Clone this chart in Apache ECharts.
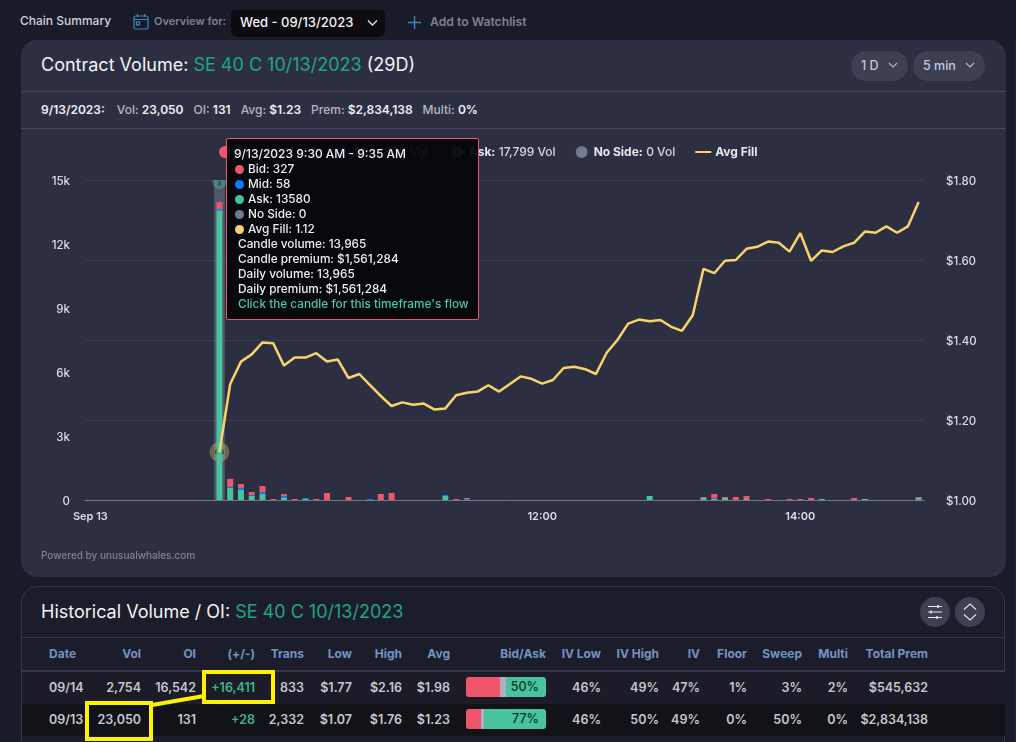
<!DOCTYPE html>
<html lang="en">
<head>
<meta charset="UTF-8">
<title>Contract Volume</title>
<script src="https://cdn.jsdelivr.net/npm/echarts@6/dist/echarts.min.js"></script>
<style>
  html, body { margin: 0; width: 1016px; height: 742px; overflow: hidden; background: #1a1b28; font-family: Inter, "Noto Sans", sans-serif; color: #e8e9ee; }
  .abs { position: absolute; white-space: nowrap; }
  .panel { position: absolute; left: 21px; top: 40px; width: 985px; height: 537px; background: #2c2f42; border-radius: 16px; }
  .panel2 { position: absolute; left: 21px; top: 586px; width: 984px; height: 170px; background: #1c1d2a; border: 1px solid #34364a; border-radius: 16px 16px 0 0; box-sizing: border-box; }
  .hline { position: absolute; height: 1px; background: #454859; }
  .green { color: #1fa680; }
  .title { font-size: 18px; font-weight: 400; line-height: 24px; color: #f2f3f6; }
  .pill { position: absolute; top: 51px; height: 30px; line-height: 30px; background: #3e4052; border-radius: 15px; font-size: 12.5px; font-weight: 500; color: #b9cbe6; box-sizing: border-box; padding-left: 10px; }
  .stats { font-size: 12px; line-height: 16px; color: #b5b7c0; font-weight: 500; }
  .stats b { color: #eceef2; font-weight: 600; }
  .stats span { margin-right: 10px; }
  #line { position: absolute; left: 21px; top: 129px; width: 985px; height: 448px; }
  table { position: absolute; left: 21px; top: 637px; border-collapse: collapse; table-layout: fixed; width: 907px; }
  th, td { padding: 0; text-align: right; font-size: 12px; white-space: nowrap; }
  th { height: 32px; padding-bottom: 2px; color: #7393c5; font-weight: 700; }
  td { height: 32px; color: #c6c8ce; font-weight: 600; font-size: 12.5px; }
  .band { position: absolute; left: 22px; width: 983px; height: 32px; }
  .ba { position: relative; display: flex; height: 20px; margin-left: 16px; border-radius: 3px; overflow: hidden; }
  .ba i { display: block; height: 100%; }
  .ba em { position: absolute; right: 7px; top: 0; line-height: 20px; font-style: normal; font-weight: 500; font-size: 12.5px; color: #15332c; }
  .round { position: absolute; top: 597px; width: 30px; height: 30px; border-radius: 15px; background: #3e4052; }
</style>
</head>
<body>
  <div class="abs" style="left:20px;top:13px;font-size:12px;line-height:16px;font-weight:500;color:#cfd2d8">Chain Summary</div>
  <svg class="abs" style="left:133px;top:13px" width="16" height="18" viewBox="0 0 16 18" fill="none" stroke="#3f86b8" stroke-width="1.2">
    <rect x="1" y="3" width="14" height="13" rx="2"/><path d="M1 6.5H15M4.5 1V4M11.5 1V4"/><rect x="3.5" y="9" width="3" height="3"/>
  </svg>
  <div class="abs" style="left:154px;top:13px;font-size:11px;line-height:16px;font-weight:600;color:#7f828e">Overview for:</div>
  <div class="abs" style="left:231px;top:10px;width:154px;height:27px;background:#0c0c10;border-radius:5px"></div>
  <div class="abs" style="left:240px;top:13px;font-size:13px;line-height:18px;font-weight:500;color:#f0f1f4">Wed - 09/13/2023</div>
  <svg class="abs" style="left:367px;top:19px" width="11" height="8" fill="none" stroke="#e8e9ee" stroke-width="1.3"><path d="M1 1.5L5.5 6L10 1.5"/></svg>
  <svg class="abs" style="left:408px;top:16px" width="13" height="13" stroke="#3f86b8" stroke-width="1.4"><path d="M6.5 0V13M0 6.5H13"/></svg>
  <div class="abs" style="left:430px;top:14px;font-size:12.2px;line-height:16px;font-weight:600;color:#7f828e">Add to Watchlist</div>
  <div class="abs" style="left:1015px;top:40px;width:1px;height:702px;background:#25263a"></div>

  <div class="panel"></div>
  <div class="abs title" style="left:41px;top:53px">Contract Volume: <span class="green">SE 40 C 10/13/2023</span> (29D)</div>
  <div class="pill" style="left:851px;width:57px">1 D</div>
  <div class="pill" style="left:913px;width:72px">5 min</div>
  <svg class="abs" style="left:888px;top:62px" width="10" height="7" fill="none" stroke="#b9bcc8" stroke-width="1.1"><path d="M1 1L5 5L9 1"/></svg>
  <svg class="abs" style="left:965px;top:62px" width="10" height="7" fill="none" stroke="#b9bcc8" stroke-width="1.1"><path d="M1 1L5 5L9 1"/></svg>
  <div class="hline" style="left:21px;top:91px;width:985px"></div>
  <div class="hline" style="left:21px;top:128px;width:985px"></div>
  <div class="abs stats" style="left:41px;top:102px"><span style="margin-right:12px"><b>9/13/2023:</b></span><span>Vol: <b>23,050</b></span><span>OI: <b>131</b></span><span>Avg: <b>$1.23</b></span><span>Prem: <b>$2,834,138</b></span><span>Multi: <b>0%</b></span></div>
  <div id="line"></div>
  <div class="abs" style="left:41px;top:548px;font-size:10px;line-height:14px;font-weight:500;color:#7e818f">Powered by unusualwhales.com</div>

  <div class="panel2"></div>
  <div class="abs title" style="left:41px;top:600px">Historical Volume / OI: <span class="green">SE 40 C 10/13/2023</span></div>
  <div class="round" style="left:920px">
    <svg width="30" height="30" fill="none" stroke="#e4e5ea" stroke-width="1.1"><path d="M8 9.5H22M8 15H22M8 20.5H22"/><path d="M18 8V11M11 13.5V16.5M17 19V22" stroke-width="1.6"/></svg>
  </div>
  <div class="round" style="left:955px">
    <svg width="30" height="30" fill="none" stroke="#e4e5ea" stroke-width="1.1"><path d="M9 12.5L15 7L21 12.5M9 17.5L15 23L21 17.5"/></svg>
  </div>
  <div class="hline" style="left:22px;top:637px;width:983px;background:#34364a"></div>
  <div class="band" style="top:672px;background:#1b1c27"></div>
  <div class="band" style="top:704px;background:#121318"></div>
  <div class="hline" style="left:22px;top:670px;width:983px;height:2px;background:#34364a"></div>
  <table id="hist"></table>
  <svg class="abs" style="left:0;top:0;pointer-events:none" width="1016" height="742" fill="none" stroke="#fff200" stroke-width="4">
    <rect x="204" y="672" width="69" height="30"/>
    <rect x="87" y="703" width="64" height="36"/>
    <path d="M152 705L204 696"/>
  </svg>

<script>
  // 5 minute slots, the axis starts one hour before the open
  var categories = [
    '08:30','08:35','08:40','08:45','08:50','08:55','09:00','09:05','09:10','09:15','09:20','09:25',
    '09:30','09:35','09:40','09:45','09:50','09:55','10:00','10:05','10:10','10:15','10:20','10:25',
    '10:30','10:35','10:40','10:45','10:50','10:55','11:00','11:05','11:10','11:15','11:20','11:25',
    '11:30','11:35','11:40','11:45','11:50','11:55','12:00','12:05','12:10','12:15','12:20','12:25',
    '12:30','12:35','12:40','12:45','12:50','12:55','13:00','13:05','13:10','13:15','13:20','13:25',
    '13:30','13:35','13:40','13:45','13:50','13:55','14:00','14:05','14:10','14:15','14:20','14:25',
    '14:30','14:35','14:40','14:45','14:50','14:55'
  ];
  var preOpen = [null,null,null,null,null,null,null,null,null,null,null,null];
  var bidVol = preOpen.concat([
    327,375,188,141,281,47,94,47,0,47,
    328,0,141,0,0,281,328,0,0,0,
    0,0,47,47,0,0,0,0,0,0,
    0,0,0,0,0,0,0,0,0,0,
    0,0,0,0,0,47,203,47,141,141,
    0,47,0,47,47,94,0,0,0,94,
    0,0,0,0,0,47
  ]);
  var midVol = preOpen.concat([
    58,40,94,30,94,0,60,0,47,0,
    0,0,0,0,47,0,0,0,0,0,
    0,47,0,47,0,0,0,0,0,0,
    0,0,0,0,0,0,0,0,0,0,
    0,0,0,0,0,0,30,0,0,0,
    0,0,0,0,0,0,0,0,0,0,
    0,0,0,0,0,0
  ]);
  var askVol = preOpen.concat([
    13580,578,469,203,281,0,125,0,47,0,
    0,0,0,0,0,0,0,0,0,0,
    0,188,0,0,0,0,0,0,0,0,
    0,0,0,0,0,0,0,0,0,0,
    188,0,0,0,0,94,47,94,0,47,
    0,0,0,0,0,0,47,0,0,0,
    47,0,0,0,0,94
  ]);
  var noSideVol = preOpen.concat([
    0,0,0,0,0,0,0,0,0,0,
    0,0,0,0,0,0,0,0,0,0,
    0,0,0,0,0,0,0,0,0,0,
    0,0,0,0,0,0,0,0,0,0,
    0,0,0,0,0,0,0,0,0,0,
    0,0,0,0,0,0,0,0,0,0,
    0,0,0,0,0,0
  ]);
  var avgFill = preOpen.concat([
    1.12,1.29,1.346,1.364,1.394,1.392,1.336,1.356,1.356,1.367,
    1.346,1.351,1.305,1.315,1.287,1.26,1.235,1.244,1.238,1.241,
    1.226,1.229,1.262,1.268,1.271,1.287,1.271,1.29,1.309,1.303,
    1.291,1.30,1.33,1.333,1.327,1.315,1.368,1.40,1.441,1.451,
    1.447,1.45,1.433,1.423,1.462,1.578,1.567,1.598,1.60,1.628,
    1.633,1.646,1.643,1.621,1.667,1.598,1.624,1.62,1.634,1.643,
    1.671,1.668,1.684,1.668,1.684,1.745
  ]);

  var xTickLabels = { '08:30': 'Sep 13', '12:00': '12:00', '14:00': '14:00' };
  var legendTotals = { 'Bid': '4,401 Vol', 'Mid': '850 Vol', 'Ask': '17,799 Vol', 'No Side': '0 Vol' };

  var hoverSlot = '09:30';
  var hoverTitle = '9/13/2023 9:30 AM - 9:35 AM';
  var hoverLines = ['Candle volume: 13,965', 'Candle premium: $1,561,284', 'Daily volume: 13,965', 'Daily premium: $1,561,284'];
  var hoverLink = "Click the candle for this timeframe's flow";

  var tableHead = ['Date','Vol','OI','(+/-)','Trans','Low','High','Avg','Bid/Ask','IV Low','IV High','IV','Floor','Sweep','Multi','Total Prem'];
  var colWidths = [70,50,55,59,49,48,50,48,96,55,58,41,47,55,46,80];
  var row0914 = ['09/14','2,754','16,542','+16,411','833','$1.77','$2.16','$1.98',[43,7,50],'46%','49%','47%','1%','3%','2%','$545,632'];
  var row0913 = ['09/13','23,050','131','+28','2,332','$1.07','$1.76','$1.23',[19,4,77],'46%','50%','49%','0%','50%','0%','$2,834,138'];

  var C_BID = '#f0566b', C_MID = '#0a7cf5', C_ASK = '#47c39e', C_NONE = '#6f7b90', C_FILL = '#f8d26b';

  // history table
  var html = '<colgroup>' + colWidths.map(function (w) { return '<col style="width:' + w + 'px">'; }).join('') + '</colgroup><tr>';
  tableHead.forEach(function (h, i) {
    html += '<th' + (i == 0 ? ' style="text-align:left;padding-left:28px"' : '') + '>' + h + '</th>';
  });
  html += '</tr>';
  [row0914, row0913].forEach(function (row) {
    html += '<tr>';
    row.forEach(function (cell, i) {
      if (i == 8) {
        html += '<td><div class="ba"><i style="width:' + cell[0] + '%;background:' + C_BID + '"></i>' +
          '<i style="width:' + cell[1] + '%;background:#aeb1bd"></i><i style="width:' + cell[2] + '%;background:' + C_ASK + '"></i>' +
          '<em>' + cell[2] + '%</em></div></td>';
      } else if (i == 0) {
        html += '<td style="text-align:left;padding-left:28px">' + cell + '</td>';
      } else if (i == 3) {
        html += '<td style="color:#3eb592">' + cell + '</td>';
      } else {
        html += '<td>' + cell + '</td>';
      }
    });
    html += '</tr>';
  });
  document.getElementById('hist').innerHTML = html;

  function dot(color) {
    return '<span style="position:absolute;left:7.5px;margin-top:3px;width:9px;height:9px;border-radius:50%;background:' + color + '"></span>';
  }

  const myChart = echarts.init(document.getElementById('line'));

  function barSeries(name, data, color) {
    return {
      name: name,
      type: 'bar',
      stack: 'vol',
      z: 60,
      barWidth: 6,
      data: data,
      itemStyle: { color: color },
      emphasis: { disabled: true },
      animation: false
    };
  }

  var bidSeries = barSeries('Bid', bidVol, C_BID);
  // half disc clipped by the top of the plot, where the volume axis pointer ends
  bidSeries.markPoint = {
    silent: true,
    animation: false,
    label: { show: false },
    data: [
      { coord: [hoverSlot, 14790], symbol: 'path://M0 0H14V2A7 7 0 0 1 0 2Z', symbolSize: [14, 9], itemStyle: { color: 'rgba(71,195,158,0.4)' } },
      { coord: [hoverSlot, 14850], symbol: 'rect', symbolSize: [2, 5], itemStyle: { color: '#3a3f50' } }
    ]
  };

  // rich text so the padding nudges the y labels down onto their gridlines
  var yLabelRich = {
    a: { fontFamily: 'Inter', fontSize: 11.5, fontWeight: 500, color: '#dcdde3', padding: [3, 0, 0, 0] }
  };

  const option = {
    animation: false,
    grid: { left: 64, top: 51, width: 839, height: 320 },
    legend: {
      left: 193,
      top: 12,
      itemWidth: 16,
      itemHeight: 12,
      itemGap: 20,
      selectedMode: false,
      data: [
        { name: 'Bid', icon: 'circle' },
        { name: 'Mid', icon: 'circle' },
        { name: 'Ask', icon: 'circle' },
        { name: 'No Side', icon: 'circle' },
        { name: 'Avg Fill', icon: 'path://M0 0H16V2H0Z' }
      ],
      formatter: function (name) {
        if (!legendTotals[name]) return '{b|' + name + '}';
        return '{b|' + name + ':} {n|' + legendTotals[name] + '}' + (name == 'Mid' ? '{s|\u00a0}' : '');
      },
      textStyle: {
        padding: [0, 0, 0, -1],
        rich: {
          b: { fontFamily: 'Inter', fontSize: 12, fontWeight: 700, color: '#e6e7ec' },
          n: { fontFamily: 'Inter', fontSize: 12, fontWeight: 500, color: '#d5d7de' },
          s: { fontSize: 12, width: 5 }
        }
      }
    },
    tooltip: {
      trigger: 'axis',
      alwaysShowContent: true,
      transitionDuration: 0,
      axisPointer: { type: 'shadow', z: 1, shadowStyle: { color: 'rgba(190,190,215,0.27)' } },
      position: [205, 9],
      backgroundColor: 'rgba(4,5,8,0.93)',
      borderColor: '#ef5568',
      borderWidth: 1,
      padding: [7, 8, 7, 7],
      extraCssText: 'border-radius:2px;box-shadow:none;width:236px;',
      textStyle: { fontFamily: 'Inter', fontSize: 11.8, color: '#eceef2', lineHeight: 15 },
      formatter: function (params) {
        var val = {};
        params.forEach(function (p) { val[p.seriesName] = p.value; });
        var out = '<div style="font-size:12px;font-weight:500;line-height:16px;white-space:nowrap">' + hoverTitle + '</div>';
        [['Bid', C_BID], ['Mid', C_MID], ['Ask', C_ASK], ['No Side', C_NONE], ['Avg Fill', C_FILL]].forEach(function (s) {
          out += '<div style="line-height:15px;padding-left:14px;font-weight:500">' + dot(s[1]) + s[0] + ': ' + val[s[0]] + '</div>';
        });
        hoverLines.forEach(function (t) {
          out += '<div style="line-height:15px;padding-left:4px;font-weight:500">' + t + '</div>';
        });
        return out + '<div style="line-height:15px;padding-left:4px;font-weight:500;color:#4fc7a2;white-space:nowrap">' + hoverLink + '</div>';
      }
    },
    xAxis: {
      type: 'category',
      data: categories,
      axisTick: { show: false },
      axisLine: { lineStyle: { color: '#77777c', width: 1 } },
      axisLabel: {
        interval: function (i, value) { return !!xTickLabels[value]; },
        formatter: function (value) { return xTickLabels[value]; },
        margin: 11,
        fontFamily: 'Inter',
        fontSize: 11,
        fontWeight: 600,
        color: '#dcdde3'
      }
    },
    yAxis: [
      {
        type: 'value',
        min: 0,
        max: 15000,
        interval: 3000,
        splitLine: { show: false },
        axisLine: { show: false },
        axisTick: { show: false },
        axisLabel: {
          margin: 15,
          rich: yLabelRich,
          formatter: function (v) { return '{a|' + (v == 0 ? '0' : (v / 1000) + 'k') + '}'; }
        }
      },
      {
        type: 'value',
        min: 1,
        max: 1.8,
        interval: 0.2,
        position: 'right',
        splitLine: { lineStyle: { color: '#3a3d50', width: 1 } },
        axisLine: { show: false },
        axisTick: { show: false },
        axisLabel: {
          margin: 22,
          rich: yLabelRich,
          formatter: function (v) { return '{a|$' + v.toFixed(2) + '}'; }
        }
      }
    ],
    series: [
      barSeries('Ask', askVol, C_ASK),
      barSeries('No Side', noSideVol, C_NONE),
      barSeries('Mid', midVol, C_MID),
      bidSeries,
      {
        name: 'Avg Fill',
        type: 'line',
        yAxisIndex: 1,
        z: 65,
        data: avgFill,
        symbol: 'none',
        connectNulls: false,
        lineStyle: { color: C_FILL, width: 2.5 },
        itemStyle: { color: C_FILL },
        emphasis: { disabled: true },
        animation: false,
        markPoint: {
          silent: true,
          animation: false,
          label: { show: false },
          data: [
            { coord: [hoverSlot, 1.12], symbol: 'circle', symbolSize: 20, itemStyle: { color: 'rgba(248,210,107,0.32)' } },
            { coord: [hoverSlot, 1.12], symbol: 'circle', symbolSize: 7, itemStyle: { color: C_FILL, borderColor: '#222222', borderWidth: 1.5 } }
          ]
        }
      }
    ]
  };

  myChart.setOption(option);
  myChart.dispatchAction({ type: 'showTip', seriesIndex: 0, dataIndex: categories.indexOf(hoverSlot) });
</script>
</body>
</html>
